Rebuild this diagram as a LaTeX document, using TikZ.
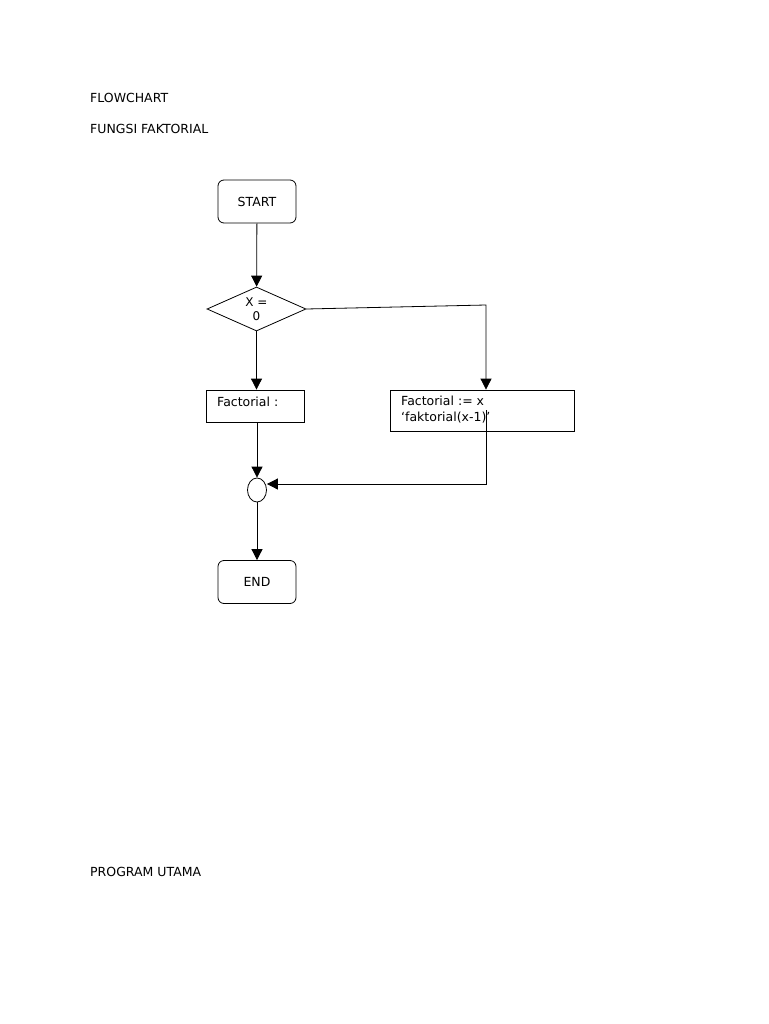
\documentclass[tikz,border=0pt]{standalone}
\usepackage{fontspec}
\setmainfont{DejaVu Sans}
\usetikzlibrary{arrows.meta,positioning,shapes.geometric}
\tikzset{
  line/.style={draw,line width=0.8pt},
  arr/.style={line,-{Triangle[length=11pt,width=11pt]}},
  term/.style={draw,line width=0.8pt,rounded corners=6pt,minimum width=78pt,minimum height=43pt},
  proc/.style={draw,line width=0.8pt,align=left,inner sep=0pt},
  decide/.style={draw,line width=0.8pt,diamond,aspect=2.25,minimum width=99pt,minimum height=44pt,inner sep=0pt,align=center,font=\fontsize{12}{14}\selectfont},
  lbl/.style={anchor=west,inner sep=0pt}
}
\begin{document}
\begin{tikzpicture}[x=1pt,y=-1pt,font=\fontsize{12.5}{16}\selectfont]
  \useasboundingbox (0,0) rectangle (768,1024);

  \node[lbl] (title) at (90,98) {FLOWCHART};
  \node[lbl] (sub) at (90,129) {FUNGSI FAKTORIAL};
  \node[lbl] (prog) at (90,872) {PROGRAM UTAMA};

  \node[term] (start) at (257,201.5) {START};
  \node[decide] (cond) at (256.5,309) {X =\\0};
  \node[proc,minimum width=98pt,minimum height=32pt] (one) at (255,406) {};
  \node[lbl] (onet) at (217,402) {Factorial :};
  \node[proc,minimum width=184pt,minimum height=41pt] (rec) at (482,410.5) {};
  \node[lbl] (rect) at (401,410.5) {\begin{tabular}{@{}l@{}}Factorial := x\\ `faktorial(x-1)'\end{tabular}};
  \node[draw,line width=0.8pt,ellipse,minimum width=19pt,minimum height=24pt,inner sep=0pt] (join) at (257,490) {};
  \node[term] (end) at (257,582) {END};

  \coordinate (c1) at (486,305);
  \coordinate (c2) at (486,410);
  \coordinate (c3) at (486,484);

  \draw[arr] (start) -- (cond);
  \draw[arr] (cond.south) -- (one.north -| cond.south);
  \draw[arr] (cond.east) -- (c1) -- (rec.north -| c1);
  \draw[arr] (one.south -| join.north) -- (join);
  \draw[arr] (c2) -- (c3) -- (join.east |- c3);
  \draw[arr] (join) -- (end);
\end{tikzpicture}
\end{document}
